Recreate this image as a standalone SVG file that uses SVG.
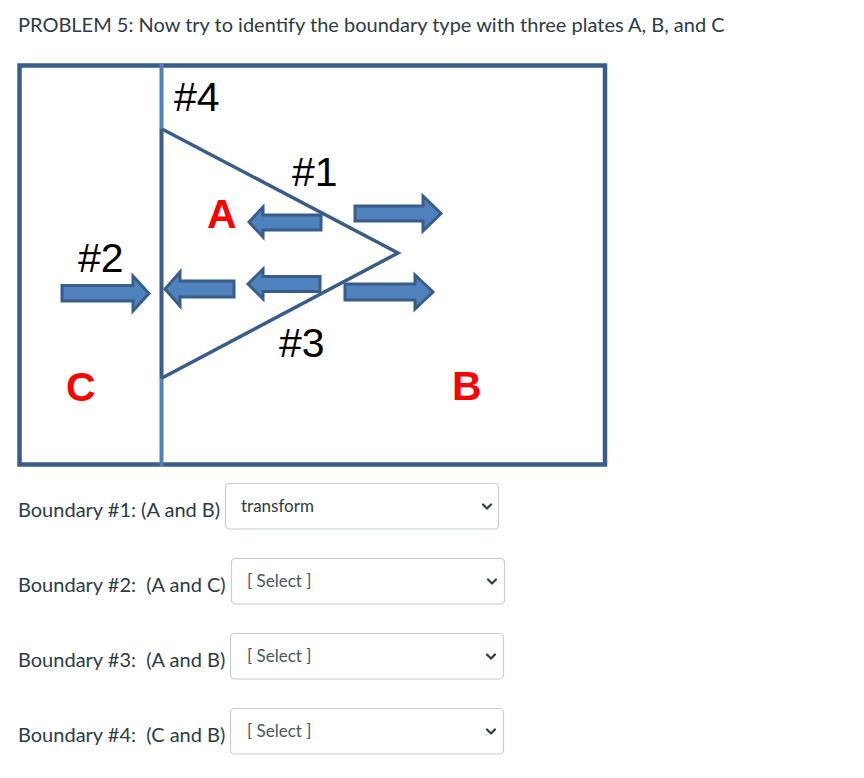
<svg xmlns="http://www.w3.org/2000/svg" width="864" height="778" viewBox="0 0 864 778">
<style>
.ui{font-family:Lato,"Open Sans","Liberation Sans",sans-serif;fill:#2d3b45;white-space:pre}
.title{font-size:20px}
.lbl{font-size:20px}
.opt{font-size:17px}
.sel{fill:#4a5560}
.box{fill:#fff;stroke:#c7cdd1;stroke-width:1.2}
.chev{fill:none;stroke:#2d3b45;stroke-width:2.2;stroke-linecap:round;stroke-linejoin:round}
.num{font-family:"Liberation Sans",Arial,sans-serif;font-size:41px;fill:#000}
.plate{font-family:"Liberation Sans",Arial,sans-serif;font-size:41px;font-weight:bold;fill:#ff0000}
.arr{fill:#4f81bd;stroke:#385d8a;stroke-width:3;stroke-linejoin:miter}
.bnd{fill:none;stroke:#385d8a;stroke-width:3.5}
</style>
<rect width="864" height="778" fill="#fff"/>
<text class="ui title" x="18" y="32">PROBLEM 5: Now try to identify the boundary type with three plates A, B, and C</text>

<g id="frame">
<rect x="19.5" y="65.5" width="585.5" height="399" fill="#fff" stroke="#385d8a" stroke-width="4.5"/>
</g>

<g id="connectors">
<line x1="161.5" y1="64" x2="161.5" y2="129" stroke="#4f81bd" stroke-width="4"/>
<line x1="161.5" y1="129" x2="161.5" y2="378" stroke="#385d8a" stroke-width="4"/>
<line x1="161.5" y1="378" x2="161.5" y2="466" stroke="#4f81bd" stroke-width="4"/>
<polygon class="arr" points="249,222 263,207 263,215 321,215 321,230 263,230 263,237"/>
<polygon class="arr" points="355,206 423,206 423,196 441,213.5 423,231 423,221 355,221"/>
<polygon class="arr" points="248,284 263,269 263,276.5 320,276.5 320,291.5 263,291.5 263,299"/>
<polygon class="arr" points="345,284 415,284 415,275 433,292 415,309 415,300 345,300"/>
<polygon class="arr" points="165,289 180,272 180,281 234,281 234,297 180,297 180,306"/>
<polygon class="arr" points="62,285.5 133,285.5 133,276 149,293.5 133,311 133,301 62,301"/>
<polyline class="bnd" points="162,129 398,253 162,378"/>
</g>

<g id="label-4"><text class="num" x="174" y="111">#4</text></g>
<g id="label-1"><text class="num" x="292" y="186">#1</text></g>
<g id="label-2"><text class="num" x="78" y="272">#2</text></g>
<g id="label-3"><text class="num" x="279" y="357">#3</text></g>
<g id="plate-A"><text class="plate" x="207" y="228">A</text></g>
<g id="plate-C"><text class="plate" x="66" y="401">C</text></g>
<g id="plate-B"><text class="plate" x="452" y="400">B</text></g>

<g id="q1">
<text class="ui lbl" x="18" y="517">Boundary #1: (A and B)</text>
<rect class="box" x="225.5" y="483.5" width="273" height="45.5" rx="4"/>
<text class="ui opt" x="241" y="512">transform</text>
<polyline class="chev" points="483,504.5 487,508.5 491,504.5"/>
</g>
<g id="q2">
<text class="ui lbl" x="18" y="592">Boundary #2:  (A and C)</text>
<rect class="box" x="231.5" y="558.5" width="273" height="45.5" rx="4"/>
<text class="ui opt sel" x="247" y="587">[ Select ]</text>
<polyline class="chev" points="488,579.5 492,583.5 496,579.5"/>
</g>
<g id="q3">
<text class="ui lbl" x="18" y="667">Boundary #3:  (A and B)</text>
<rect class="box" x="230.5" y="633.5" width="273" height="45.5" rx="4"/>
<text class="ui opt sel" x="247" y="662">[ Select ]</text>
<polyline class="chev" points="487,654.5 491,658.5 495,654.5"/>
</g>
<g id="q4">
<text class="ui lbl" x="18" y="742">Boundary #4:  (C and B)</text>
<rect class="box" x="230.5" y="708.5" width="273" height="45.5" rx="4"/>
<text class="ui opt sel" x="247" y="737">[ Select ]</text>
<polyline class="chev" points="487,729.5 491,733.5 495,729.5"/>
</g>
</svg>
